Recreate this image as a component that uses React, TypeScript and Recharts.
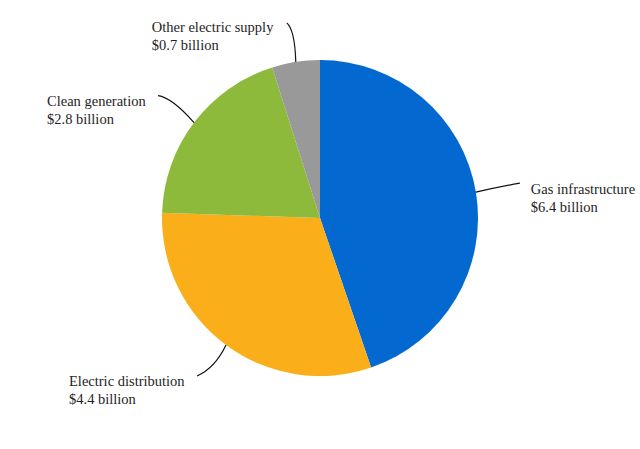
import React from 'react';
import { PieChart, Pie, Cell } from 'recharts';

const categories = ['Gas infrastructure', 'Electric distribution', 'Clean generation', 'Other electric supply'];
const values = [6.4, 4.4, 2.8, 0.7];
const colors = ['#0369D0', '#FAAE1A', '#8DBA3B', '#999999'];

// leader line shape and label placement, relative to the slice's outer mid point
const leaders = [
  { end: [44, -9], ctrl: [22, -5], text: [11, 11] },
  { end: [-29, 31], ctrl: [-11, 23], text: [-128, 10] },
  { end: [-36, -27], ctrl: [-22, -25], text: [-111, 10] },
  { end: [-9, -39], ctrl: [-1, -32], text: [-135, 9] },
];

const data = categories.map((name, i) => ({ name, value: values[i] }));

const RADIAN = Math.PI / 180;
const serif = "'Liberation Serif', 'Times New Roman', serif";

const renderLabel = (props: any) => {
  const { cx, cy, midAngle, outerRadius, index, name, value } = props;
  const x0 = cx + outerRadius * Math.cos(-midAngle * RADIAN);
  const y0 = cy + outerRadius * Math.sin(-midAngle * RADIAN);
  const l = leaders[index];
  const x1 = x0 + l.end[0];
  const y1 = y0 + l.end[1];
  const qx = x0 + l.ctrl[0];
  const qy = y0 + l.ctrl[1];
  const tx = x1 + l.text[0];
  const ty = y1 + l.text[1];
  return (
    <g>
      <path d={`M${x0},${y0} Q${qx},${qy} ${x1},${y1}`} stroke="#111" strokeWidth={1.2} fill="none" />
      <text x={tx} y={ty} fill="#1e1e1e" textAnchor="start" style={{ fontFamily: serif, fontSize: 14.5 }}>
        <tspan x={tx}>{name}</tspan>
        <tspan x={tx} dy={18}>{`$${value.toFixed(1)} billion`}</tspan>
      </text>
    </g>
  );
};

const App = () => {
  return (
    <div style={{ position: 'absolute', left: 0, top: 0, background: '#fff' }}>
      <PieChart width={640} height={449} margin={{ top: 0, right: 0, bottom: 0, left: 0 }}>
        <Pie
          data={data}
          dataKey="value"
          nameKey="name"
          cx={320}
          cy={218}
          outerRadius={158}
          startAngle={90}
          endAngle={-270}
          stroke="none"
          label={renderLabel}
          labelLine={false}
          isAnimationActive={false}
        >
          {data.map((d, i) => (
            <Cell key={d.name} fill={colors[i]} />
          ))}
        </Pie>
      </PieChart>
    </div>
  );
};

export default App;
